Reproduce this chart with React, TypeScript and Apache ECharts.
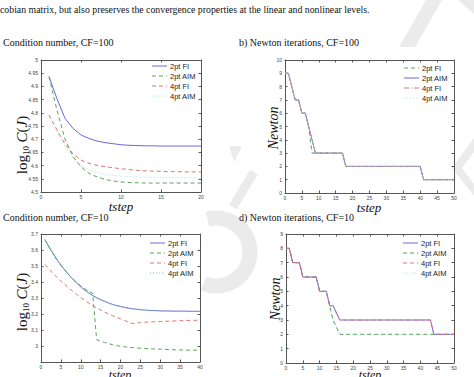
import React, { useEffect, useRef } from "react";
import * as echarts from "echarts";

// ---------- data ----------
const tstepA = [1, 2, 3, 4, 5, 6, 7, 8, 9, 10, 11, 12, 13, 14, 15, 16, 17, 18, 19, 20];
const a2ptFI = [4.937, 4.853, 4.779, 4.741, 4.716, 4.703, 4.693, 4.687, 4.683, 4.679, 4.677, 4.676, 4.675, 4.675, 4.674, 4.674, 4.674, 4.674, 4.674, 4.674];
const a2ptAIM = [4.937, 4.81, 4.7, 4.635, 4.595, 4.571, 4.557, 4.548, 4.542, 4.538, 4.536, 4.535, 4.534, 4.534, 4.534, 4.534, 4.534, 4.534, 4.534, 4.534];
const a4ptFI = [4.792, 4.735, 4.682, 4.644, 4.621, 4.609, 4.601, 4.596, 4.592, 4.588, 4.585, 4.582, 4.58, 4.579, 4.578, 4.577, 4.577, 4.576, 4.576, 4.576];
const a4ptAIM = [4.79, 4.73, 4.672, 4.628, 4.6, 4.584, 4.574, 4.567, 4.563, 4.56, 4.558, 4.557, 4.556, 4.555, 4.555, 4.554, 4.554, 4.554, 4.554, 4.554];

const tstepB = [0, 1, 2, 3, 4, 5, 6, 7, 8, 9, 10, 11, 12, 13, 14, 15, 16, 17, 18, 19, 20, 21, 22, 23, 24, 25, 26, 27, 28, 29, 30, 31, 32, 33, 34, 35, 36, 37, 38, 39, 40, 41, 42, 43, 44, 45, 46, 47, 48, 49, 50];
const b2ptFI = [9, 9, 8, 7, 7, 6, 6, 5, 3, 3, 3, 3, 3, 3, 3, 3, 3, 3, 2, 2, 2, 2, 2, 2, 2, 2, 2, 2, 2, 2, 2, 2, 2, 2, 2, 2, 2, 2, 2, 2, 2, 1, 1, 1, 1, 1, 1, 1, 1, 1, 1];
const b2ptAIM = [9, 9, 8, 7, 7, 6, 6, 5, 4, 3, 3, 3, 3, 3, 3, 3, 3, 3, 2, 2, 2, 2, 2, 2, 2, 2, 2, 2, 2, 2, 2, 2, 2, 2, 2, 2, 2, 2, 2, 2, 2, 1, 1, 1, 1, 1, 1, 1, 1, 1, 1];
const b4ptFI = [9, 9, 8, 7, 7, 6, 6, 5, 4, 3, 3, 3, 3, 3, 3, 3, 3, 3, 2, 2, 2, 2, 2, 2, 2, 2, 2, 2, 2, 2, 2, 2, 2, 2, 2, 2, 2, 2, 2, 2, 2, 1, 1, 1, 1, 1, 1, 1, 1, 1, 1];
const b4ptAIM = [9, 9, 8, 7, 7, 6, 6, 5, 4, 3, 3, 3, 3, 3, 3, 3, 3, 3, 2, 2, 2, 2, 2, 2, 2, 2, 2, 2, 2, 2, 2, 2, 2, 2, 2, 2, 2, 2, 2, 2, 2, 1, 1, 1, 1, 1, 1, 1, 1, 1, 1];

const tstepC = [1, 2, 3, 4, 5, 6, 7, 8, 9, 10, 11, 12, 13, 14, 15, 16, 17, 18, 19, 20, 21, 22, 23, 24, 25, 26, 27, 28, 29, 30, 31, 32, 33, 34, 35, 36, 37, 38, 39, 40];
const c2ptFI = [3.665, 3.62, 3.58, 3.54, 3.505, 3.475, 3.445, 3.418, 3.393, 3.37, 3.35, 3.332, 3.316, 3.302, 3.29, 3.279, 3.269, 3.26, 3.253, 3.247, 3.242, 3.237, 3.233, 3.23, 3.227, 3.225, 3.223, 3.222, 3.221, 3.22, 3.219, 3.219, 3.218, 3.218, 3.218, 3.218, 3.217, 3.217, 3.217, 3.217];
const c2ptAIM = [3.665, 3.62, 3.58, 3.54, 3.505, 3.475, 3.445, 3.42, 3.397, 3.376, 3.358, 3.342, 3.33, 3.04, 3.03, 3.022, 3.015, 3.008, 3.003, 2.998, 2.995, 2.992, 2.99, 2.988, 2.986, 2.985, 2.983, 2.982, 2.981, 2.98, 2.979, 2.978, 2.977, 2.976, 2.975, 2.975, 2.974, 2.974, 2.974, 2.974];
const c4ptFI = [3.51, 3.48, 3.455, 3.43, 3.405, 3.385, 3.362, 3.342, 3.322, 3.303, 3.285, 3.268, 3.252, 3.238, 3.225, 3.212, 3.2, 3.19, 3.18, 3.17, 3.16, 3.15, 3.14, 3.143, 3.146, 3.148, 3.15, 3.151, 3.152, 3.153, 3.154, 3.155, 3.156, 3.157, 3.158, 3.159, 3.16, 3.16, 3.161, 3.161];
const c4ptAIM = [3.663, 3.618, 3.578, 3.538, 3.503, 3.473, 3.443, 3.416, 3.391, 3.368, 3.348, 3.33, 3.314, 3.3, 3.288, 3.277, 3.267, 3.258, 3.251, 3.245, 3.24, 3.235, 3.231, 3.228, 3.225, 3.223, 3.221, 3.22, 3.219, 3.218, 3.217, 3.217, 3.216, 3.216, 3.216, 3.216, 3.215, 3.215, 3.215, 3.215];

const tstepD = [0, 1, 2, 3, 4, 5, 6, 7, 8, 9, 10, 11, 12, 13, 14, 15, 16, 17, 18, 19, 20, 21, 22, 23, 24, 25, 26, 27, 28, 29, 30, 31, 32, 33, 34, 35, 36, 37, 38, 39, 40, 41, 42, 43, 44, 45, 46, 47, 48, 49, 50];
const d2ptFI = [8, 8, 7, 7, 7, 6, 6, 6, 6, 6, 5, 5, 5, 4, 4, 3.5, 3, 3, 3, 3, 3, 3, 3, 3, 3, 3, 3, 3, 3, 3, 3, 3, 3, 3, 3, 3, 3, 3, 3, 3, 3, 3, 3, 3, 2, 2, 2, 2, 2, 2, 2];
const d2ptAIM = [8, 8, 7, 7, 7, 6, 6, 6, 6, 6, 5, 5, 5, 4, 3, 2.5, 2, 2, 2, 2, 2, 2, 2, 2, 2, 2, 2, 2, 2, 2, 2, 2, 2, 2, 2, 2, 2, 2, 2, 2, 2, 2, 2, 2, 2, 2, 2, 2, 2, 2, 2];
const d4ptFI = [8, 8, 7, 7, 7, 6, 6, 6, 6, 6, 5, 5, 5, 4, 4, 3.5, 3, 3, 3, 3, 3, 3, 3, 3, 3, 3, 3, 3, 3, 3, 3, 3, 3, 3, 3, 3, 3, 3, 3, 3, 3, 3, 3, 3, 2, 2, 2, 2, 2, 2, 2];
const d4ptAIM = [8, 8, 7, 7, 7, 6, 6, 6, 6, 6, 5, 5, 5, 4, 3, 2.5, 2, 2, 2, 2, 2, 2, 2, 2, 2, 2, 2, 2, 2, 2, 2, 2, 2, 2, 2, 2, 2, 2, 2, 2, 2, 2, 2, 2, 2, 2, 2, 2, 2, 2, 2];

const seriesNames = ["2pt FI", "2pt AIM", "4pt FI", "4pt AIM"];

const introText = "cobian matrix, but also preserves the convergence properties at the linear and nonlinear levels.";
const titleA = "Condition number, CF=100";
const titleB = "b) Newton iterations, CF=100";
const titleC = "Condition number, CF=10";
const titleD = "d) Newton iterations, CF=10";

// ---------- styles ----------
const BLUE = "#6a6ad8";
const GREEN = "#5aa65a";
const RED = "#e07474";
const CYAN = "#a6e4e4";
const AXIS = "#555";
const SERIF = "'Liberation Serif', 'DejaVu Serif', serif";
const SANS = "'Liberation Sans', Arial, sans-serif";

type Style = { color: string; type: any; width: number };
const sSolid = (c: string): Style => ({ color: c, type: "solid", width: 1 });
const sDash = (c: string): Style => ({ color: c, type: [4, 3], width: 1 });
const sDashDot = (c: string): Style => ({ color: c, type: [5, 2, 1, 2], width: 1 });
const sDot = (c: string): Style => ({ color: c, type: [1, 2], width: 1 });

const panels = [
  {
    grid: { left: 41, top: 60, width: 160, height: 132 },
    x: { min: 0, max: 20, interval: 5 },
    y: { min: 4.5, max: 5, interval: 0.05 },
    xs: tstepA,
    ys: [a2ptFI, a2ptAIM, a4ptFI, a4ptAIM],
    styles: [sSolid(BLUE), sDash(GREEN), sDash(RED), sDot(CYAN)],
    order: [3, 2, 1, 0],
    legend: { x: 152, y: 66 },
  },
  {
    grid: { left: 285, top: 60, width: 169, height: 133 },
    x: { min: 0, max: 50, interval: 5 },
    y: { min: 0, max: 10, interval: 1 },
    xs: tstepB,
    ys: [b2ptFI, b2ptAIM, b4ptFI, b4ptAIM],
    styles: [sDash(GREEN), sSolid(BLUE), sDashDot(RED), sDot(CYAN)],
    order: [0, 1, 2, 3],
    legend: { x: 404, y: 68 },
  },
  {
    grid: { left: 41, top: 234, width: 159, height: 128 },
    x: { min: 0, max: 40, interval: 5 },
    y: { min: 2.9, max: 3.7, interval: 0.1 },
    xs: tstepC,
    ys: [c2ptFI, c2ptAIM, c4ptFI, c4ptAIM],
    styles: [sSolid(BLUE), sDash(GREEN), sDash(RED), sDot("#6fc6c6")],
    order: [0, 1, 2, 3],
    legend: { x: 150, y: 243 },
  },
  {
    grid: { left: 286, top: 234, width: 168, height: 129 },
    x: { min: 0, max: 50, interval: 5 },
    y: { min: 0, max: 9, interval: 1 },
    xs: tstepD,
    ys: [d2ptFI, d2ptAIM, d4ptFI, d4ptAIM],
    styles: [sSolid(BLUE), sDash(GREEN), sDash(RED), sDot(CYAN)],
    order: [3, 1, 0, 2],
    legend: { x: 403, y: 243 },
  },
];

const fmt = (lowHide?: number) => (v: number) => {
  if (lowHide !== undefined && v < lowHide) return "";
  return String(+v.toFixed(2));
};

export default function App() {
  const ref = useRef<HTMLDivElement>(null);
  useEffect(() => {
    document.body.style.margin = "0";
    const chart = echarts.init(ref.current!, undefined, { renderer: "svg" });
    const grids: any[] = [];
    const xAxes: any[] = [];
    const yAxes: any[] = [];
    const series: any[] = [];
    const graphics: any[] = [];

    const wm = "#ebebeb";
    // watermark shapes (light gray), behind everything
    graphics.push(
      { type: "polygon", shape: { points: [[399, 47], [426, 0], [442, 0], [415, 47]] }, style: { fill: wm }, z: -10 },
      { type: "polygon", shape: { points: [[458, 0], [474, 0], [474, 14]] }, style: { fill: wm }, z: -10 },
      { type: "polygon", shape: { points: [[229, 146], [242, 146], [234, 162]] }, style: { fill: wm }, z: -10 },
      { type: "line", shape: { x1: 254, y1: 172, x2: 233, y2: 207 }, style: { stroke: wm, lineWidth: 9 }, z: -10 },
      {
        type: "arc",
        shape: { cx: 216, cy: 252, r: 34, startAngle: -Math.PI * 0.58, endAngle: Math.PI * 0.62, clockwise: true },
        style: { stroke: wm, lineWidth: 15, fill: "none" },
        z: -10,
      },
      { type: "polygon", shape: { points: [[474, 138], [474, 152], [462, 168], [474, 184], [474, 196], [452, 168]] }, style: { fill: wm }, z: -10 }
    );

    panels.forEach((p, i) => {
      grids.push({ ...p.grid, show: false, containLabel: false });
      const common = {
        axisLine: { show: true, onZero: false, lineStyle: { color: AXIS, width: 1 } },
        axisTick: { show: true, inside: true, length: 2.5, lineStyle: { color: AXIS } },
        splitLine: { show: false },
      };
      xAxes.push({
        type: "value", gridIndex: i, position: "bottom", ...p.x, ...common,
        axisLabel: { fontSize: 5, color: "#444", margin: 2, fontFamily: SANS, formatter: fmt() },
      });
      xAxes.push({
        type: "value", gridIndex: i, position: "top", ...p.x, ...common,
        axisLabel: { show: false },
      });
      yAxes.push({
        type: "value", gridIndex: i, position: "left", ...p.y, ...common,
        axisLabel: { fontSize: 5, color: "#444", margin: 3, fontFamily: SANS, formatter: fmt(i === 2 ? 2.95 : undefined) },
      });
      yAxes.push({
        type: "value", gridIndex: i, position: "right", ...p.y, ...common,
        axisLabel: { show: false },
      });
      p.order.forEach((k) => {
        series.push({
          type: "line",
          name: seriesNames[k],
          xAxisIndex: 2 * i,
          yAxisIndex: 2 * i,
          data: p.xs.map((t, j) => [t, p.ys[k][j]]),
          showSymbol: false,
          symbol: "none",
          lineStyle: { ...p.styles[k] },
          silent: true,
        });
      });
      // legend drawn as graphics
      seriesNames.forEach((nm, r) => {
        const st = p.styles[r];
        const y = p.legend.y + r * 10;
        graphics.push({
          type: "line",
          shape: { x1: p.legend.x, y1: y, x2: p.legend.x + 15, y2: y },
          style: { stroke: st.color, lineWidth: 1, lineDash: st.type === "solid" ? null : st.type },
          z: 10,
        });
        graphics.push({
          type: "text",
          x: p.legend.x + 18,
          y,
          style: { text: nm, font: `7.5px ${SANS}`, fill: "#222", textVerticalAlign: "middle", verticalAlign: "middle" },
          z: 10,
        });
      });
    });

    // texts
    const txt = (x: number, y: number, text: string, font: string, extra: any = {}) => ({
      type: "text", x, y, z: 20,
      style: { text, font, fill: "#111", verticalAlign: "middle", textVerticalAlign: "middle", ...extra },
    });
    graphics.push(txt(0, 9, introText, `9.8px ${SERIF}`));
    graphics.push(txt(3, 42, titleA, `10px ${SERIF}`));
    graphics.push(txt(239, 42, titleB, `10px ${SERIF}`));
    graphics.push(txt(3, 217, titleC, `10px ${SERIF}`));
    graphics.push(txt(239, 217, titleD, `10px ${SERIF}`));
    // x labels
    const ctr = { align: "center", textAlign: "center" };
    graphics.push(txt(121, 206, "tstep", `italic 13px ${SERIF}`, ctr));
    graphics.push(txt(369, 207, "tstep", `italic 13px ${SERIF}`, ctr));
    graphics.push(txt(120, 375, "tstep", `italic 12px ${SERIF}`, ctr));
    graphics.push(txt(370, 375, "tstep", `italic 12px ${SERIF}`, ctr));
    // y labels
    const ylab = (x: number, y: number, text: string, font: string, rich?: any) => ({
      type: "text", x, y, rotation: Math.PI / 2, z: 20,
      style: {
        text, font, fill: "#111", align: "center", textAlign: "center",
        verticalAlign: "middle", textVerticalAlign: "middle", rich,
      },
    });
    const logRich = {
      s: { fontSize: 9, fontFamily: SERIF, fill: "#111", verticalAlign: "bottom", padding: [8, 0, 0, 0] },
      i: { fontSize: 15, fontFamily: SERIF, fontStyle: "italic", fill: "#111" },
      n: { fontSize: 15, fontFamily: SERIF, fill: "#111" },
    };
    graphics.push(ylab(22, 145, "{n|log}{s|10} {i|C}{n|(}{i|J}{n|)}", `15px ${SERIF}`, logRich));
    graphics.push(ylab(22, 302, "{n|log}{s|10} {i|C}{n|(}{i|J}{n|)}", `15px ${SERIF}`, logRich));
    graphics.push(ylab(273, 128, "Newton", `italic 14px ${SERIF}`));
    graphics.push(ylab(275, 299, "Newton", `italic 14px ${SERIF}`));

    chart.setOption({
      animation: false,
      backgroundColor: "#fff",
      grid: grids,
      xAxis: xAxes,
      yAxis: yAxes,
      series,
      graphic: { elements: graphics },
    });
    return () => chart.dispose();
  }, []);
  return <div ref={ref} style={{ width: 474, height: 377 }} />;
}
